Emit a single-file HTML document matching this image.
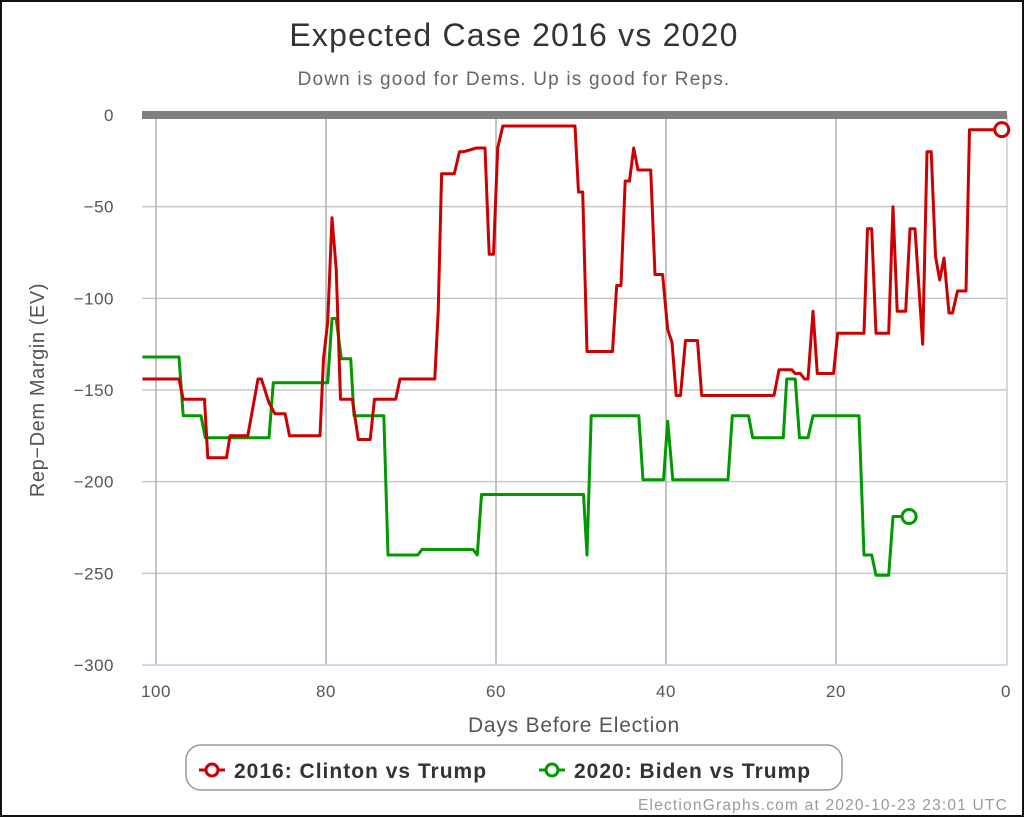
<!DOCTYPE html>
<html><head><meta charset="utf-8"><style>
html,body{margin:0;padding:0;background:#fff;}
#wrap{position:relative;width:1024px;height:817px;overflow:hidden;box-sizing:border-box;border:2px solid #111;}
svg{position:absolute;left:0;top:0;font-family:"Liberation Sans",sans-serif;}
</style></head><body>
<div id="wrap">
<svg id="chart" width="1024" height="817"></svg>
</div>
<script>
const xTicks=[100,80,60,40,20,0];
const yTicks=[0,-50,-100,-150,-200,-250,-300];
const days2016=[101.6,97.3,96.8,94.3,93.9,91.7,91.3,89.2,88,87.6,86.7,86.0,84.8,84.3,80.7,80.3,79.8,79.3,78.8,78.3,76.9,76.2,74.8,74.3,71.8,71.3,67.2,66.8,66.4,64.9,64.3,63.8,62.3,61.3,60.8,60.3,59.8,59.2,50.7,50.3,49.8,49.3,46.3,45.8,45.3,44.8,44.3,43.8,43.3,41.8,41.3,40.4,39.8,39.3,38.8,38.3,37.7,36.3,35.8,27.3,26.7,25.2,24.8,24.2,23.7,23.3,22.7,22.2,20.3,19.8,16.7,16.3,15.8,15.3,13.8,13.3,12.8,11.8,11.3,10.7,9.8,9.3,8.8,8.3,7.8,7.3,6.7,6.3,5.7,4.7,4.3,0.5];
const vals2016=[-144,-144,-155,-155,-187,-187,-175,-175,-144,-144,-157,-163,-163,-175,-175,-133,-113,-56,-84,-155,-155,-177,-177,-155,-155,-144,-144,-107,-32,-32,-20,-20,-18,-18,-76,-76,-18,-6,-6,-42,-42,-129,-129,-93,-93,-36,-36,-18,-30,-30,-87,-87,-117,-124,-153,-153,-123,-123,-153,-153,-139,-139,-141,-141,-144,-144,-107,-141,-141,-119,-119,-62,-62,-119,-119,-50,-107,-107,-62,-62,-125,-20,-20,-77,-90,-78,-108,-108,-96,-96,-8,-8];
const days2020=[101.6,97.3,96.8,94.7,94.2,86.7,86.2,79.8,79.3,78.8,78.2,77.1,76.7,73.2,72.7,69.2,68.7,62.7,62.2,61.7,49.7,49.3,48.8,43.2,42.7,40.3,39.8,39.2,32.7,32.2,30.3,29.8,26.2,25.8,24.8,24.3,23.3,22.7,17.3,16.7,15.8,15.3,13.8,13.3,12.5,11.4];
const vals2020=[-132,-132,-164,-164,-176,-176,-146,-146,-111,-111,-133,-133,-164,-164,-240,-240,-237,-237,-240,-207,-207,-240,-164,-164,-199,-199,-167,-199,-199,-164,-164,-176,-176,-144,-144,-176,-176,-164,-164,-240,-240,-251,-251,-219,-219,-219];
const NS='http://www.w3.org/2000/svg';
const svg=document.getElementById('chart');
const X=d=>1004-d*8.5;
const Y=v=>113-v*1.8333;
function mk(tag,attrs,parent){const e=document.createElementNS(NS,tag);for(const k in attrs)e.setAttribute(k,attrs[k]);(parent||svg).appendChild(e);return e;}
function txt(s,attrs){const e=mk('text',attrs);e.textContent=s;return e;}
let t=txt('Expected Case 2016 vs 2020',{x:512,y:44,'text-anchor':'middle','font-size':32,'letter-spacing':1.2,fill:'#333'});

t=txt('Down is good for Dems. Up is good for Reps.',{x:512,y:83,'text-anchor':'middle','font-size':19,'letter-spacing':1.2,fill:'#666'});

yTicks.forEach(v=>{
 if(v!==0){const l=mk('line',{x1:140,x2:1005,y1:Y(v),y2:Y(v),stroke:'#c8c8c8','stroke-width':1.5});
 }
 const tl=txt(v===0?'0':'\u2212'+(-v),{x:112,y:Y(v)+6,'text-anchor':'end','font-size':17,'letter-spacing':0.5,fill:'#555'});
 
});
xTicks.forEach(d=>{
 if(d!==0){const l=mk('line',{x1:X(d),x2:X(d),y1:113,y2:663,stroke:'#b0b0b0','stroke-width':1.5});
 }
 const tl=txt(String(d),{x:X(d),y:695,'text-anchor':'middle','font-size':17,'letter-spacing':0.5,fill:'#555'});
 
});
let r=mk('line',{x1:1005,x2:1005,y1:113,y2:663,stroke:'#ccc','stroke-width':1.5});

r=mk('line',{x1:140,x2:1005,y1:663,y2:663,stroke:'#ccd6eb','stroke-width':1.5});

r=mk('rect',{x:140,y:109,width:865,height:8,fill:'#808080'});

t=txt('Days Before Election',{x:572,y:730,'text-anchor':'middle','font-size':21,'letter-spacing':0.8,fill:'#555'});

t=txt('Rep\u2212Dem Margin (EV)',{x:0,y:0,'text-anchor':'middle','font-size':20,'letter-spacing':0.6,fill:'#555',transform:'translate(42,388) rotate(-90)'});

function series(days,vals,color,name){
 const pts=days.map((d,i)=>X(d).toFixed(1)+','+Y(vals[i]).toFixed(1)).join(' ');
 const p=mk('polyline',{points:pts,fill:'none',stroke:color,'stroke-width':3,'stroke-linejoin':'round'});
 
 const n=days.length-1;
 const c=mk('circle',{cx:X(days[n]),cy:Y(vals[n]),r:7,fill:'#fff',stroke:color,'stroke-width':3});
 
}
series(days2020,vals2020,'#009900','series-2020');
series(days2016,vals2016,'#cc0000','series-2016');
r=mk('rect',{x:184,y:743,width:656,height:45,rx:15,fill:'#fff',stroke:'#999','stroke-width':1.5});

function legend(x,color,label,name){
 const g=mk('g',{});
 
 mk('line',{x1:x,x2:x+26,y1:768,y2:768,stroke:color,'stroke-width':3},g);
 mk('circle',{cx:x+13,cy:768,r:6,fill:'#fff',stroke:color,'stroke-width':3},g);
 const tt=mk('text',{x:x+35,y:776,'font-size':21,'letter-spacing':1,'font-weight':'bold',fill:'#333'},g);tt.textContent=label;
}
legend(197,'#cc0000','2016: Clinton vs Trump','legend-entry-2016');
legend(537,'#009900','2020: Biden vs Trump','legend-entry-2020');
t=txt('ElectionGraphs.com at 2020-10-23 23:01 UTC',{x:1006,y:808,'text-anchor':'end','font-size':15.5,'letter-spacing':1.2,fill:'#999'});

</script>
</body></html>
